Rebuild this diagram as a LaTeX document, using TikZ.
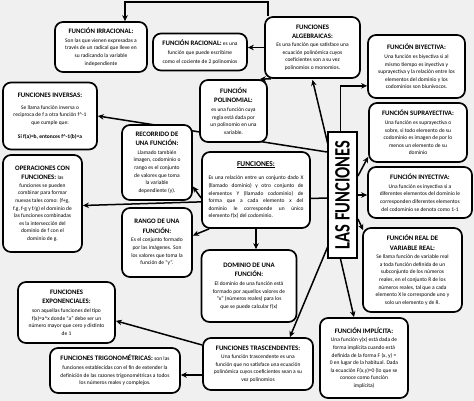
\documentclass[tikz,border=0pt]{standalone}
\usepackage{fontspec}
\setmainfont{Carlito}
\usetikzlibrary{positioning,arrows.meta,calc,backgrounds}
\definecolor{pagegray}{HTML}{F0F0F0}
\newcommand{\hd}[1]{{\fontsize{6.8}{8}\selectfont\bfseries #1}}
\newcommand{\jline}[1]{\makebox[95pt][s]{#1}}

\begin{document}
\begin{tikzpicture}[x=1pt,y=-1pt,
      fbox/.style={draw=black,line width=1.7pt,rounded corners=8pt,fill=white,
                   align=center,inner sep=2pt,font=\fontsize{5.5}{7.6}\selectfont},
      mainbox/.style={draw=black,line width=1.9pt,fill=white,inner sep=0pt,
                      font=\fontsize{22}{22}\selectfont\bfseries},
      arr/.style={-{Stealth[length=6pt,width=5.5pt]},line width=1.5pt,black}]
    \useasboundingbox (0,0) rectangle (474,401);
    % centre of the map
    \node[mainbox,minimum width=29pt,minimum height=126pt] (las) at (342.5,195)
      {\rotatebox{90}{\scalebox{0.75}[1]{LAS FUNCIONES}}};
    % upper row
    \node[fbox,minimum width=92pt,minimum height=50pt] (irr) at (101,47)
      {\hd{FUNCIÓN IRRACIONAL:}\\[1pt] Son las que vienen expresadas a\\ través de un radical que lleve en\\ su radicando la variable\\ independiente};
    \node[fbox,minimum width=94pt,minimum height=37pt] (rac) at (200,52)
      {\hd{FUNCIÓN RACIONAL:} es una\\[1.5pt] función que puede escribirse\\[1.5pt] como el cociente de 2 polinomios};
    \node[fbox,minimum width=95pt,minimum height=61pt] (alg) at (312.5,47.5)
      {\hd{FUNCIONES}\\[1.5pt] \hd{ALGEBRAICAS:}\\[1pt] Es una función que satisface una\\ ecuación polinómica cuyos\\ coeficientes son a su vez\\ polinomios o monomios.};
    \node[fbox,minimum width=67pt,minimum height=62pt] (pol) at (233.5,111)
      {\hd{FUNCIÓN}\\[2pt] \hd{POLINOMIAL:}\\[1pt] es una función cuya\\ regla está dada por\\ un polinomio en una\\ variable.};
    % right column
    \node[fbox,minimum width=97pt,minimum height=63pt] (biy) at (416.5,66.5)
      {\hd{FUNCIÓN BIYECTIVA:}\\[1pt] Una función es biyectiva si al\\ mismo tiempo es inyectiva y\\ suprayectiva y la relación entre los\\ elementos del dominio y los\\ codominios son biunívocos.};
    \node[fbox,minimum width=98pt,minimum height=59pt] (sup) at (418,132.5)
      {\hd{FUNCIÓN SUPRAYECTIVA:}\\[1pt] Una función es suprayectiva o\\ sobre, si todo elemento de su\\ codominio es imagen de por lo\\ menos un elemento de su\\ dominio};
    \node[fbox,minimum width=104pt,minimum height=51pt] (iny) at (420,192.5)
      {\hd{FUNCIÓN INYECTIVA:}\\[1pt] Una función es inyectiva si a\\ diferentes elementos del dominio le\\ corresponden diferentes elementos\\ del codominio se denota como 1-1};
    \node[fbox,minimum width=99pt,minimum height=84pt] (real) at (412.5,270)
      {\hd{FUNCIÓN REAL DE}\\[2pt] \hd{VARIABLE REAL:}\\[1pt] Se llama función de variable real\\ a toda función definida de un\\ subconjunto de los números\\ reales, en el conjunto R de los\\ números reales, tal que a cada\\ elemento X le corresponde uno y\\ solo un elemento y de R.};
    \node[fbox,minimum width=88pt,minimum height=80pt] (imp) at (364,358)
      {\hd{FUNCIÓN IMPLÍCITA:}\\[1pt] Una función y(x) está dada de\\ forma implícita cuando está\\ definida de la forma F (x, y) =\\ 0 en lugar de la habitual. Dada\\ la ecuación F(x,y)=0 (lo que se\\ conoce como función\\ implícita)};
    % left side
    \node[fbox,minimum width=94pt,minimum height=67pt] (inv) at (50,116)
      {\hd{FUNCIONES INVERSAS:}\\[4pt] Se llama función inversa o\\ reciproca de f a otra función f\textasciicircum-1\\ que cumple que:\\[6pt] \textbf{Si f(a)=b, entonces f\textasciicircum-1(b)=a}};
    \node[fbox,minimum width=70pt,minimum height=75pt] (rec) at (157,162.5)
      {\hd{RECORRIDO DE}\\[2pt] \hd{UNA FUNCIÓN:}\\[1pt] Llamado también\\ imagen, codominio o\\ rango es el conjunto\\ de valores que toma\\ la variable\\ dependiente (y).};
    \node[fbox,minimum width=108pt,minimum height=76pt] (fun) at (256,190)
      {{\fontsize{7.4}{8}\selectfont\bfseries\underline{FUNCIONES:}}\\[6pt]
       \jline{Es una relación entre un conjunto dado X}\\
       \jline{(llamado dominio) y otro conjunto de}\\
       \jline{elementos Y (llamado codominio) de}\\
       \jline{forma que a cada elemento x del}\\
       \jline{dominio le corresponde un único}\\
       \makebox[95pt][l]{elemento f(x) del codominio.}};
    \node[fbox,minimum width=79pt,minimum height=97pt] (ope) at (42.5,203.5)
      {\hd{OPERACIONES CON}\\[2pt] \hd{FUNCIONES:} las\\ funciones se pueden\\ combinar para formar\\ nuevas tales como: (f+g,\\ f.g, f-g y f/g) el dominio de\\ las funciones combinadas\\ es la intersección del\\ dominio de f con el\\ dominio de g.};
    \node[fbox,minimum width=70pt,minimum height=69pt] (ran) at (157,242.5)
      {\hd{RANGO DE UNA}\\[2pt] \hd{FUNCIÓN:}\\[1pt] Es el conjunto formado\\ por las imágenes. Son\\ los valores que toma la\\ función de “y”.};
    \node[fbox,minimum width=95pt,minimum height=72pt] (dom) at (249,286)
      {\hd{DOMINIO DE UNA}\\[2pt] \hd{FUNCIÓN:}\\[1pt] El dominio de una función está\\ formado por aquellos valores de\\ “x” (números reales) para los\\ que se puede calcular f(x)};
    % lower row
    \node[fbox,minimum width=97pt,minimum height=61pt] (exp) at (66.5,312.5)
      {\hd{FUNCIONES}\\[2pt] \hd{EXPONENCIALES:}\\[1pt] son aquellas funciones del tipo\\ f(x)=a\textasciicircum x donde “a” debe ser un\\ número mayor que cero y distinto\\ de 1};
    \node[fbox,minimum width=130pt,minimum height=45pt] (tri) at (115,370.5)
      {\hd{FUNCIONES TRIGONOMÉTRICAS:} son las\\[1pt] funciones establecidas con el fin de extender la\\ definición de las razones trigonométricas a todos\\ los números reales y complejos.};
    \node[fbox,minimum width=110pt,minimum height=52pt] (tra) at (258,364)
      {\hd{FUNCIONES TRASCENDENTES:}\\[1pt] Una función trascendente es una\\ función que no satisface una ecuación\\ polinómica cuyos coeficientes sean a su\\ vez polinomios};
    \begin{pgfonlayer}{background}
      \fill[pagegray] (0,0) rectangle (474,401);
      \draw[arr] ($(las.north west)+(1,14)$) -- ($(alg.south)+(0,1)$);
      \draw[arr] ($(las.north)+(-2,0)$) |- ($(biy.south west)+(0,-13)$);
      \draw[arr] ($(alg.north west)+(4,0)$) -- ++(0,-14) -| ($(irr.north)+(24,0)$);
      \draw[arr] (alg.west) -- (alg.west -| rac.east);
      \draw[arr] ($(alg.south west)+(7,0)$) -- ($(pol.north east)+(-8,0)$);
      \draw[arr] ($(las.east)+(0,-19)$) -- ($(sup.south west)+(0,-6)$);
      \draw[arr] (las.east) -- (las.east -| iny.west);
      \draw[arr] ($(las.east)+(0,24)$) -- ($(real.north west)+(1,3)$);
      \draw[arr] ($(las.south)+(-2,0)$) -- ($(imp.north)+(-10,0)$);
      \draw[arr] ($(las.south west)+(1,-13)$) -- ($(tra.north east)+(-24,0)$);
      \draw[arr] ($(las.west)+(0,-43)$) -- (inv.east);
      \draw[arr] ($(las.west)+(0,3)$) -- ($(ope.east)+(0,2)$);
      \draw[arr] ($(fun.west)+(0,8)$) -- ($(rec.east)+(0,24)$);
      \draw[arr] ($(fun.south west)+(8,0)$) -- ($(ran.east)+(0,-7)$);
      \draw[arr] (fun.south) -- (fun.south |- dom.north);
      \draw[arr] ($(tra.west)+(0,-19)$) -- ($(exp.south east)+(0,-23)$);
      \draw[arr] ($(tra.west |- tri.east)+(0,4.5)$) -- ($(tri.east)+(0,4.5)$);
    \end{pgfonlayer}
  \end{tikzpicture}
\end{document}
